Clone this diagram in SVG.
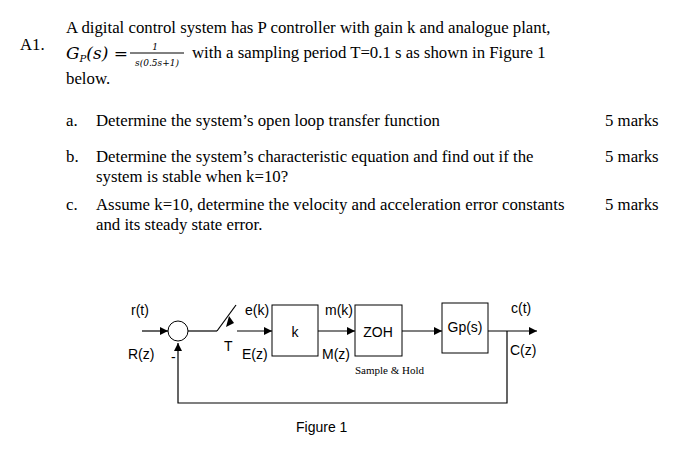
<svg xmlns="http://www.w3.org/2000/svg" width="676" height="450" viewBox="0 0 676 450">
<defs>
<style>
.t{font-family:"Liberation Serif",serif;font-size:16.8px;fill:#000}
.s{font-family:"Liberation Sans",sans-serif;font-size:14px;fill:#000}
.m{font-family:"DejaVu Serif",serif;font-style:italic;fill:#000}
.l{stroke:#000;stroke-width:1.2;fill:none}
.b{stroke:#000;stroke-width:1;fill:#fff}
</style>
<marker id="a" viewBox="0 0 10 10" refX="10" refY="5" markerWidth="8" markerHeight="8" orient="auto" markerUnits="userSpaceOnUse"><path d="M0,0L10,5L0,10z" fill="#000"/></marker>
</defs>
<rect width="676" height="450" fill="#fff"/>
<g id="question">
<text class="t" x="20" y="50">A1.</text>
<text class="t" x="66" y="33">A digital control system has P controller with gain k and analogue plant,</text>
<text class="m" x="66" y="59" font-size="17">G<tspan font-size="10" dy="3">P</tspan><tspan dy="-3">(s) =</tspan></text>
<text class="m" x="155" y="50" font-size="9" text-anchor="middle">1</text>
<line x1="130" y1="53" x2="184" y2="53" stroke="#000" stroke-width="1"/>
<text class="m" x="157" y="66" font-size="9" text-anchor="middle">s(0.5s+1)</text>
<text class="t" x="192" y="58">with a sampling period T=0.1 s as shown in Figure 1</text>
<text class="t" x="66" y="84">below.</text>
<text class="t" x="66" y="126">a.</text>
<text class="t" x="96" y="126">Determine the system’s open loop transfer function</text>
<text class="t" x="605" y="126">5 marks</text>
<text class="t" x="66" y="162">b.</text>
<text class="t" x="96" y="162">Determine the system’s characteristic equation and find out if the</text>
<text class="t" x="96" y="182">system is stable when k=10?</text>
<text class="t" x="605" y="162">5 marks</text>
<text class="t" x="66" y="210">c.</text>
<text class="t" x="96" y="210">Assume k=10, determine the velocity and acceleration error constants</text>
<text class="t" x="96" y="230">and its steady state error.</text>
<text class="t" x="605" y="210">5 marks</text>
</g>
<g id="connectors">
<line class="l" x1="142" y1="331" x2="168" y2="331" marker-end="url(#a)"/>
<line class="l" x1="188" y1="331" x2="217" y2="331"/>
<line class="l" x1="217" y1="331" x2="236" y2="305"/>
<path d="M229,316L226,327L234,323z" fill="#000"/>
<line class="l" x1="237" y1="331" x2="272" y2="331" marker-end="url(#a)"/>
<line class="l" x1="318" y1="331" x2="355" y2="331" marker-end="url(#a)"/>
<line class="l" x1="402" y1="331" x2="442" y2="331" marker-end="url(#a)"/>
<line class="l" x1="488" y1="331" x2="537" y2="331" marker-end="url(#a)"/>
<polyline class="l" points="507,331 507,403 178,403 178,343" marker-end="url(#a)"/>
</g>
<g id="sum"><circle class="b" cx="178" cy="331" r="10"/></g>
<g id="k"><rect class="b" x="272" y="305" width="46" height="51"/><text class="s" x="295" y="337" text-anchor="middle">k</text></g>
<g id="zoh"><rect class="b" x="355" y="305" width="47" height="51"/><text class="s" x="378" y="337" text-anchor="middle">ZOH</text></g>
<g id="gp"><rect class="b" x="442" y="303" width="46" height="50"/><text class="s" x="465" y="332" text-anchor="middle">Gp(s)</text></g>
<g id="labels">
<text class="s" x="131" y="315">r(t)</text>
<text class="s" x="128" y="359">R(z)</text>
<text class="s" x="171" y="362">-</text>
<text class="s" x="245" y="315">e(k)</text>
<text class="s" x="224" y="351">T</text>
<text class="s" x="242" y="359">E(z)</text>
<text class="s" x="325" y="315">m(k)</text>
<text class="s" x="322" y="359">M(z)</text>
<text class="s" x="511" y="313">c(t)</text>
<text class="s" x="510" y="355">C(z)</text>
<text x="355" y="374" font-family="Liberation Serif,serif" font-size="11">Sample &amp; Hold</text>
<text class="s" x="296" y="432">Figure 1</text>
</g>
</svg>
